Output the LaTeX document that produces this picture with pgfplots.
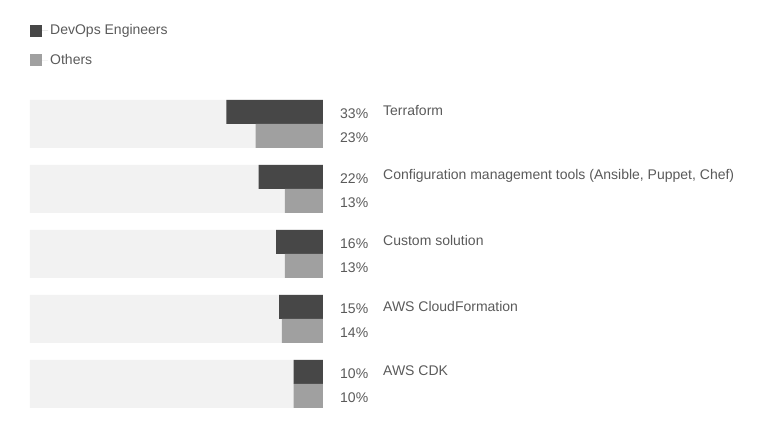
\documentclass[border=0pt]{standalone}
\usepackage{fontspec}
\setmainfont{Liberation Sans}
\usepackage{pgfplots}
\pgfplotsset{compat=1.18}
\definecolor{devops}{HTML}{474747}
\definecolor{others}{HTML}{A0A0A0}
\definecolor{track}{HTML}{F2F2F2}
\definecolor{txt}{HTML}{5A5A5A}

\begin{document}
\begin{tikzpicture}
\useasboundingbox (0,0) rectangle (770bp,422bp);
\begin{axis}[
    at={(30bp,12bp)}, anchor=south west,
    width=293bp, height=310bp, scale only axis,
    xmin=0, xmax=100, x dir=reverse,
    ymin=-0.4, ymax=4.3692,
    hide axis,
    clip=false,
    /pgf/number format/assume math mode=true,
    font=\fontsize{14bp}{16bp}\selectfont,
    legend style={
        at={(0,1.25)}, anchor=north west,
        draw=none, fill=none, inner sep=0pt,
        row sep=14bp,
        text=txt,
        font=\fontsize{14bp}{16bp}\selectfont,
    },
    legend cell align=left,
]
% grey tracks behind the bars
\addplot[xbar, bar width=48bp, bar shift=0bp, fill=track, draw=none, forget plot]
    coordinates {(100,4) (100,3) (100,2) (100,1) (100,0)};
% DevOps Engineers
\addplot[xbar, bar width=24bp, bar shift=12bp, fill=devops, draw=none,
    legend image code/.code={\fill[devops] (0bp,-6bp) rectangle (12bp,6bp); \path (0bp,0bp) -- (18bp,0bp);}]
    coordinates {(33,4) (22,3) (16,2) (15,1) (10,0)};
% Others
\addplot[xbar, bar width=24bp, bar shift=-12bp, fill=others, draw=none,
    legend image code/.code={\fill[others] (0bp,-6bp) rectangle (12bp,6bp); \path (0bp,0bp) -- (18bp,0bp);}]
    coordinates {(23,4) (13,3) (13,2) (14,1) (10,0)};
% percentage labels
\addplot[draw=none, mark=none, forget plot, point meta=explicit,
    nodes near coords={\pgfmathprintnumber{\pgfplotspointmeta}\%},
    every node near coord/.style={anchor=west, xshift=17bp, yshift=-2bp, text=txt, inner sep=0pt}]
    coordinates {(0,4.1846) [33] (0,3.1846) [22] (0,2.1846) [16] (0,1.1846) [15] (0,0.1846) [10]};
\addplot[draw=none, mark=none, forget plot, point meta=explicit,
    nodes near coords={\pgfmathprintnumber{\pgfplotspointmeta}\%},
    every node near coord/.style={anchor=west, xshift=17bp, yshift=-2bp, text=txt, inner sep=0pt}]
    coordinates {(0,3.8154) [23] (0,2.8154) [13] (0,1.8154) [13] (0,0.8154) [14] (0,-0.1846) [10]};
% category names
\begin{scope}[every node/.style={anchor=west, text=txt, inner sep=0pt, xshift=60bp, yshift=1bp}]
\node at (axis cs:0,4.1846) {Terraform};
\node at (axis cs:0,3.1846) {Configuration management tools (Ansible, Puppet, Chef)};
\node at (axis cs:0,2.1846) {Custom solution};
\node at (axis cs:0,1.1846) {AWS CloudFormation};
\node at (axis cs:0,0.1846) {AWS CDK};
\end{scope}
\legend{DevOps Engineers, Others}
\end{axis}
\end{tikzpicture}
\end{document}
